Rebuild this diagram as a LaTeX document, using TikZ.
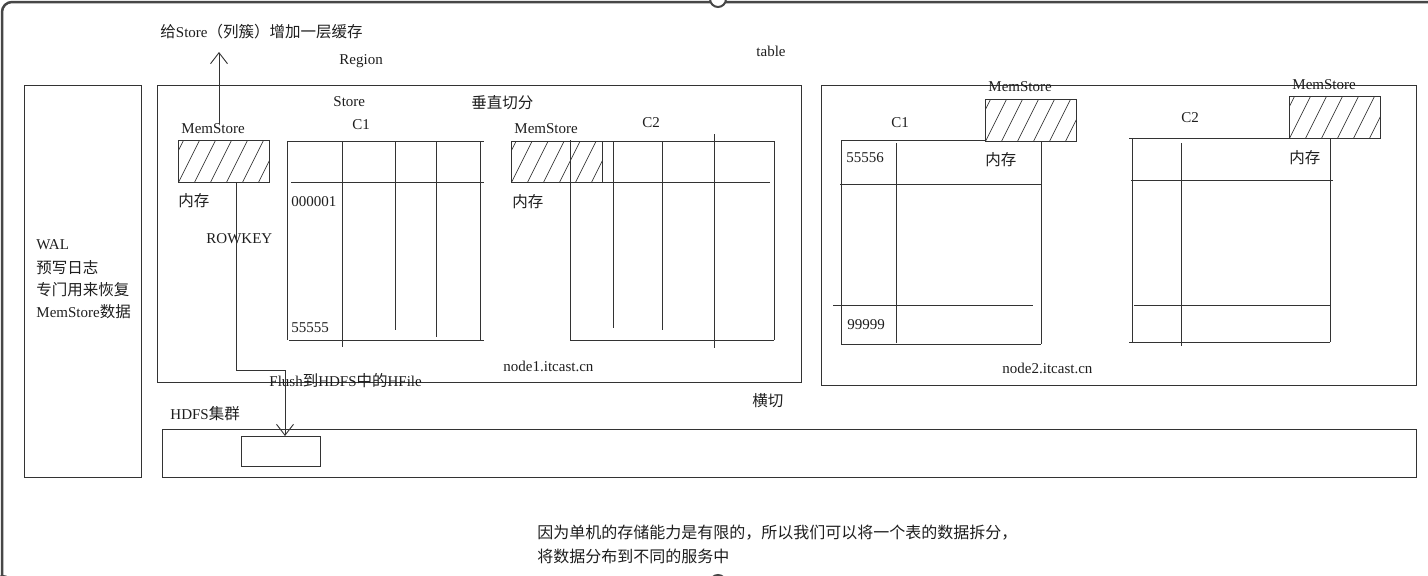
\documentclass[tikz,border=0pt]{standalone}
\usepackage{fontspec}
\setmainfont{Liberation Serif}
\newfontfamily\cjk{Noto Sans CJK SC}
\usepackage{tikz}
\usetikzlibrary{arrows.meta}
\definecolor{linec}{HTML}{333333}
\definecolor{framec}{HTML}{474747}
\definecolor{textc}{HTML}{1E1E1E}
\newcommand{\zh}[1]{{\cjk\fontsize{15.5}{18}\selectfont #1}}

\begin{document}
\begin{tikzpicture}[x=1pt, y=-1pt, color=linec, line width=0.9pt,
  >={Straight Barb[length=11pt,width=17pt]},
  font=\fontsize{15}{18}\selectfont,
  txt/.style={anchor=west, inner sep=0pt, text=textc},
  box/.style={draw, anchor=north west, inner sep=0pt},
  hatch/.style={box, minimum width=91pt, minimum height=42pt, path picture={
      \foreach \k in {-2,...,7}
        \draw[line width=0.7pt] ([xshift=\k*16pt]path picture bounding box.south west) -- ++(21pt,42pt);}}]

  \useasboundingbox (0,0) rectangle (1428,576);

  % selection frame of the screenshot
  \draw[framec, line width=2.5pt] (2,576) -- (2,12) arc[start angle=180, end angle=270, radius=10] -- (1428,2);
  \draw[framec, line width=2pt, fill=white] (718,-1) circle[radius=8];
  \draw[framec, line width=2pt, fill=white] (718,583) circle[radius=8];
  \draw[framec, line width=2pt, fill=white] (3,584) circle[radius=8];

  % Boxes
  \node[box, minimum width=117pt, minimum height=392pt] (wal) at (24,85) {};
  \node[box, minimum width=644pt, minimum height=297pt] (rg1) at (157,85) {};
  \node[box, minimum width=595pt, minimum height=300pt] (rg2) at (821,85) {};
  \node[box, minimum width=1254pt, minimum height=48pt] (hdfs) at (162,429) {};
  \node[box, minimum width=79pt, minimum height=30pt] (hfile) at (241,436) {};
  \node[hatch] (mem1) at (178,140) {};
  \node[hatch, minimum height=41pt] (mem2) at (511,141) {};
  \node[hatch] (mem3) at (985,99) {};
  \node[hatch] (mem4) at (1289,96) {};

  % table C1 on node1
  \draw (287,141) -- (484,141);
  \draw (291,182) -- (484,182);
  \draw (289,340) -- (484,340);
  \draw (287,141) -- (287,340);
  \draw (480,141) -- (480,340);
  \draw (342,141) -- (342,347);
  \draw (395,141) -- (395,330);
  \draw (436,141) -- (436,337);

  % table C2 on node1
  \draw (570,140) -- (570,340);
  \draw (602,141) -- (774,141);
  \draw (570,182) -- (770,182);
  \draw (774,141) -- (774,340);
  \draw (570,340) -- (774,340);
  \draw (613,141) -- (613,328);
  \draw (662,141) -- (662,330);
  \draw (714,134) -- (714,348);

  % table C1 on node2
  \draw (841,140) -- (985,140);
  \draw (841,140) -- (841,344);
  \draw (1041,141) -- (1041,344);
  \draw (841,344) -- (1041,344);
  \draw (840,184) -- (1041,184);
  \draw (833,305) -- (1033,305);
  \draw (896,143) -- (896,343);

  % table C2 on node2
  \draw (1129,138) -- (1289,138);
  \draw (1132,138) -- (1132,342);
  \draw (1330,138) -- (1330,342);
  \draw (1129,342) -- (1330,342);
  \draw (1131,180) -- (1333,180);
  \draw (1134,305) -- (1330,305);
  \draw (1181,143) -- (1181,346);

  % Texts
  \node[txt] (title) at (160,32) {\zh{给}Store\zh{（列簇）增加一层缓存}};
  \node[txt] (reg) at (339,61) {Region};
  \node[txt] (tab) at (756,51) {table};
  \node[txt] (sto) at (333,102) {Store};
  \node[txt] (vcut) at (471,103) {\zh{垂直切分}};
  \node[txt] (ms1) at (181,129) {MemStore};
  \node[txt] (c11) at (352,125) {C1};
  \node[txt] (ms2) at (514,129) {MemStore};
  \node[txt] (c21) at (642,123) {C2};
  \node[txt] (nc1) at (178,201) {\zh{内存}};
  \node[txt] (nc2) at (512,202) {\zh{内存}};
  \node[txt] (rk) at (206,239) {ROWKEY};
  \node[txt] (k1) at (291,202) {000001};
  \node[txt] (k2) at (291,328) {55555};
  \node[txt] (host1) at (503,366) {node1.itcast.cn};
  \node[txt] (flush) at (269,381) {Flush\zh{到}HDFS\zh{中的}HFile};
  \node[txt] (hcut) at (752,401) {\zh{横切}};
  \node[txt] (hdfsl) at (170,414) {HDFS\zh{集群}};
  \node[txt] (w1) at (36,245) {WAL};
  \node[txt] (w2) at (36,268) {\zh{预写日志}};
  \node[txt] (w3) at (36,290) {\zh{专门用来恢复}};
  \node[txt] (w4) at (36,312) {MemStore\zh{数据}};
  \node[txt] (ms3) at (988,87) {MemStore};
  \node[txt] (c12) at (891,123) {C1};
  \node[txt] (k3) at (846,158) {55556};
  \node[txt] (nc3) at (985,160) {\zh{内存}};
  \node[txt] (k4) at (847,325) {99999};
  \node[txt] (c22) at (1181,118) {C2};
  \node[txt] (ms4) at (1292,85) {MemStore};
  \node[txt] (nc4) at (1289,158) {\zh{内存}};
  \node[txt] (host2) at (1002,368) {node2.itcast.cn};
  \node[txt, font=\cjk\fontsize{16}{20}\selectfont] (note1) at (537,533) {因为单机的存储能力是有限的，所以我们可以将一个表的数据拆分，};
  \node[txt, font=\cjk\fontsize{16}{20}\selectfont] (note2) at (537,556) {将数据分布到不同的服务中};

  % Draw arrows
  \coordinate (upE) at (219,52);
  \coordinate (b1) at (236,370);
  \coordinate (b2) at (285,370);
  \draw[->] (ms1.north -| upE) -- (upE);
  \draw[->] (mem1.south -| b1) -- (b1) -- (b2) -- (hfile.north -| b2);
\end{tikzpicture}
\end{document}
